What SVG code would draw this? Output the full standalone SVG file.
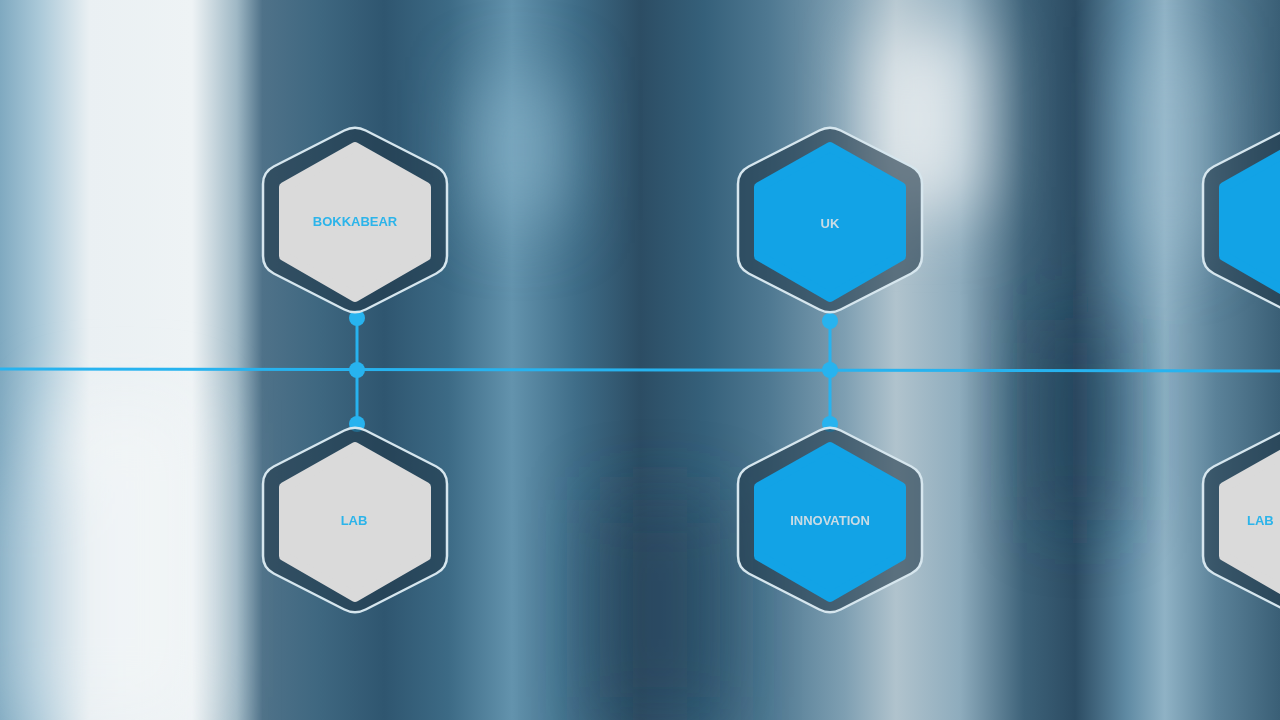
<svg xmlns="http://www.w3.org/2000/svg" width="1280" height="720" viewBox="0 0 1280 720">
<defs>
<linearGradient id="bg" x1="0" y1="0" x2="1" y2="0">
<stop offset="0" stop-color="#7fa9c0"/>
<stop offset="0.03" stop-color="#a9c8d8"/>
<stop offset="0.07" stop-color="#eaf0f3"/>
<stop offset="0.15" stop-color="#eef3f5"/>
<stop offset="0.185" stop-color="#9fb8c5"/>
<stop offset="0.205" stop-color="#4f7289"/>
<stop offset="0.25" stop-color="#3e6780"/>
<stop offset="0.3" stop-color="#2f5670"/>
<stop offset="0.35" stop-color="#3c6a85"/>
<stop offset="0.4" stop-color="#6393ad"/>
<stop offset="0.45" stop-color="#3f6d88"/>
<stop offset="0.5" stop-color="#2c4d64"/>
<stop offset="0.55" stop-color="#35607a"/>
<stop offset="0.6" stop-color="#4e7891"/>
<stop offset="0.66" stop-color="#7e9fb2"/>
<stop offset="0.7" stop-color="#b0c3cd"/>
<stop offset="0.75" stop-color="#8eacbd"/>
<stop offset="0.8" stop-color="#3d6279"/>
<stop offset="0.84" stop-color="#2c4c63"/>
<stop offset="0.88" stop-color="#5f8aa3"/>
<stop offset="0.91" stop-color="#8fb2c5"/>
<stop offset="0.95" stop-color="#5b8299"/>
<stop offset="1" stop-color="#3a5f76"/>
</linearGradient>
<filter id="blur" x="-50%" y="-50%" width="200%" height="200%"><feGaussianBlur stdDeviation="35"/></filter>
<style>
.ring{fill:#22394a;fill-opacity:0.6;stroke:#d6e6ee;stroke-width:2.5;stroke-linejoin:round}
.light{fill:#dadada;stroke:#dadada;stroke-width:10;stroke-linejoin:round}
.blue{fill:#12a3e6;stroke:#12a3e6;stroke-width:10;stroke-linejoin:round}
.tl{font-family:"Liberation Sans",Arial,sans-serif;font-size:13px;font-weight:bold;text-anchor:middle;fill:#2cb4ea}
.tb{font-family:"Liberation Sans",Arial,sans-serif;font-size:13px;font-weight:bold;text-anchor:middle;fill:#c9dbe4}
.line{stroke:#27b3ef;stroke-width:3;fill:none}
.dot{fill:#27b3ef}
</style>
</defs>
<rect width="1280" height="720" fill="url(#bg)"/>
<g filter="url(#blur)">
<rect x="870" y="30" width="110" height="180" fill="#f2f5f6" opacity="0.8"/>
<rect x="480" y="80" width="80" height="140" fill="#8ab6cc" opacity="0.7"/>
<rect x="50" y="400" width="150" height="320" fill="#f4f7f8" opacity="0.6"/>
<rect x="0" y="480" width="50" height="240" fill="#a9c8d8" opacity="0.6"/>
<rect x="600" y="500" width="120" height="220" fill="#23435a" opacity="0.6"/>
<rect x="1040" y="320" width="80" height="200" fill="#22445a" opacity="0.5"/>
<rect x="1140" y="50" width="60" height="200" fill="#a5c5d6" opacity="0.6"/>
</g>
<g id="connectors">
<line class="line" x1="0" y1="369" x2="1280" y2="371"/>
<line class="line" x1="357" y1="318" x2="357" y2="424"/>
<line class="line" x1="830" y1="321" x2="830" y2="424"/>
<circle class="dot" cx="357" cy="318" r="8"/>
<circle class="dot" cx="357" cy="370" r="8"/>
<circle class="dot" cx="357" cy="424" r="8"/>
<circle class="dot" cx="830" cy="321" r="8"/>
<circle class="dot" cx="830" cy="370" r="8"/>
<circle class="dot" cx="830" cy="424" r="8"/>
</g>
<g id="node-top-1" transform="translate(355,220)">
<path class="ring" d="M-10.7,-89.5 Q0,-95 10.7,-89.5 L81.3,-53.5 Q92,-48 92,-36 L92,36 Q92,48 81.3,53.5 L10.7,89.5 Q0,95 -10.7,89.5 L-81.3,53.5 Q-92,48 -92,36 L-92,-36 Q-92,-48 -81.3,-53.5 Z"/>
<path class="light" d="M0,-73 L71,-33 L71,36 L0,77 L-71,36 L-71,-33 Z"/>
<text class="tl" x="0" y="6">BOKKABEAR</text>
</g>
<g id="node-top-2" transform="translate(830,220)">
<path class="ring" d="M-10.7,-89.5 Q0,-95 10.7,-89.5 L81.3,-53.5 Q92,-48 92,-36 L92,36 Q92,48 81.3,53.5 L10.7,89.5 Q0,95 -10.7,89.5 L-81.3,53.5 Q-92,48 -92,36 L-92,-36 Q-92,-48 -81.3,-53.5 Z"/>
<path class="blue" d="M0,-73 L71,-33 L71,36 L0,77 L-71,36 L-71,-33 Z"/>
<text class="tb" x="0" y="8">UK</text>
</g>
<g id="node-top-3" transform="translate(1295,220)">
<path class="ring" d="M-10.7,-89.5 Q0,-95 10.7,-89.5 L81.3,-53.5 Q92,-48 92,-36 L92,36 Q92,48 81.3,53.5 L10.7,89.5 Q0,95 -10.7,89.5 L-81.3,53.5 Q-92,48 -92,36 L-92,-36 Q-92,-48 -81.3,-53.5 Z"/>
<path class="blue" d="M0,-73 L71,-33 L71,36 L0,77 L-71,36 L-71,-33 Z"/>
</g>
<g id="node-bottom-1" transform="translate(355,520)">
<path class="ring" d="M-10.7,-89.5 Q0,-95 10.7,-89.5 L81.3,-53.5 Q92,-48 92,-36 L92,36 Q92,48 81.3,53.5 L10.7,89.5 Q0,95 -10.7,89.5 L-81.3,53.5 Q-92,48 -92,36 L-92,-36 Q-92,-48 -81.3,-53.5 Z"/>
<path class="light" d="M0,-73 L71,-33 L71,36 L0,77 L-71,36 L-71,-33 Z"/>
<text class="tl" x="-1" y="5">LAB</text>
</g>
<g id="node-bottom-2" transform="translate(830,520)">
<path class="ring" d="M-10.7,-89.5 Q0,-95 10.7,-89.5 L81.3,-53.5 Q92,-48 92,-36 L92,36 Q92,48 81.3,53.5 L10.7,89.5 Q0,95 -10.7,89.5 L-81.3,53.5 Q-92,48 -92,36 L-92,-36 Q-92,-48 -81.3,-53.5 Z"/>
<path class="blue" d="M0,-73 L71,-33 L71,36 L0,77 L-71,36 L-71,-33 Z"/>
<text class="tb" x="0" y="5">INNOVATION</text>
</g>
<g id="node-bottom-3" transform="translate(1295,520)">
<path class="ring" d="M-10.7,-89.5 Q0,-95 10.7,-89.5 L81.3,-53.5 Q92,-48 92,-36 L92,36 Q92,48 81.3,53.5 L10.7,89.5 Q0,95 -10.7,89.5 L-81.3,53.5 Q-92,48 -92,36 L-92,-36 Q-92,-48 -81.3,-53.5 Z"/>
<path class="light" d="M0,-73 L71,-33 L71,36 L0,77 L-71,36 L-71,-33 Z"/>
<text class="tl" x="-48" y="5" style="text-anchor:start">LAB</text>
</g>
</svg>
